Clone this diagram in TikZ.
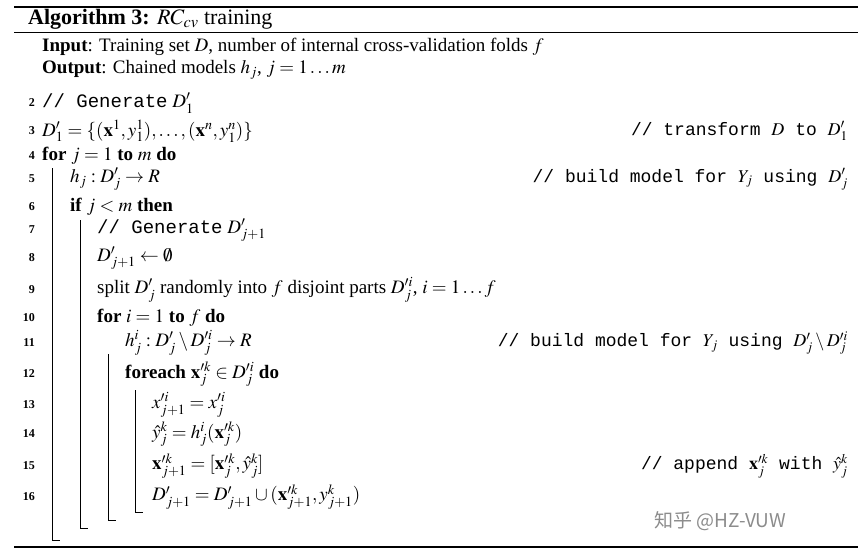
\documentclass[tikz,border=0pt]{standalone}
\usepackage{amsmath,amssymb}
\usepackage{mathptmx}
\usepackage{fontspec}
\setmainfont{Liberation Serif}
\setmonofont{Liberation Mono}
\newfontfamily\cjk{Noto Sans CJK SC}
\begin{document}
\begin{tikzpicture}[x=1pt,y=-1pt,
  txt/.style={anchor=west,inner sep=0pt,font=\fontsize{19}{22}\selectfont},
  num/.style={anchor=east,inner sep=0pt,font=\fontsize{12}{14}\selectfont\bfseries},
  cmt/.style={anchor=east,inner sep=0pt,font=\fontsize{18}{20}\selectfont\ttfamily},
  bar/.style={line width=0.8pt}]
\useasboundingbox (0,0) rectangle (858,556);
\fill[white] (0,0) rectangle (858,556);
\draw[line width=1.4pt] (14,7) -- (858,7);
\draw[line width=1pt] (14,33) -- (858,33);
\draw[line width=1.4pt] (14,547) -- (858,547);
\node[txt,font=\fontsize{22}{24}\selectfont] (title) at (28,19) {\textbf{Algorithm 3:} $RC_{cv}$ training};
\node[txt] (in) at (42,47) {\textbf{Input}: Training set $D$, number of internal cross-validation folds $f$};
\node[txt] (out) at (42,70) {\textbf{Output}: Chained models $h_j$, $j=1\ldots m$};
\foreach \n/\y in {2/103,3/131,4/156,5/179,6/207,7/230,8/258,9/290,10/318,11/343,12/374,13/405,14/434,15/466,16/497}
  \node[num] (n\n) at (35,\y) {\n};
\node[txt] (l2) at (42,103) {\texttt{// Generate} $D'_1$};
\node[txt] (l3) at (42,131) {$D'_1=\{(\mathbf{x}^1,y^1_1),\ldots,(\mathbf{x}^n,y^n_1)\}$};
\node[cmt] (c3) at (848,131) {// transform \textrm{$D$} to \textrm{$D'_1$}};
\node[txt] (l4) at (42,156) {\textbf{for} $j=1$ \textbf{to} $m$ \textbf{do}};
\node[txt] (l5) at (70,179) {$h_j : D'_j \rightarrow R$};
\node[cmt] (c5) at (848,179) {// build model for \textrm{$Y_j$} using \textrm{$D'_j$}};
\node[txt] (l6) at (70,207) {\textbf{if} $j<m$ \textbf{then}};
\node[txt] (l7) at (97,230) {\texttt{// Generate} $D'_{j+1}$};
\node[txt] (l8) at (97,258) {$D'_{j+1}\leftarrow\emptyset$};
\node[txt] (l9) at (97,290) {split $D'_j$ randomly into $f$ disjoint parts $D'^{i}_j$, $i=1\ldots f$};
\node[txt] (l10) at (97,318) {\textbf{for} $i=1$ \textbf{to} $f$ \textbf{do}};
\node[txt] (l11) at (125,343) {$h^i_j : D'_j \setminus D'^{i}_j \rightarrow R$};
\node[cmt] (c11) at (848,343) {// build model for \textrm{$Y_j$} using \textrm{$D'_j\setminus D'^{i}_j$}};
\node[txt] (l12) at (125,374) {\textbf{foreach} $\mathbf{x}'^{k}_j\in D'^{i}_j$ \textbf{do}};
\node[txt] (l13) at (152,405) {$x'^{i}_{j+1}=x'^{i}_j$};
\node[txt] (l14) at (152,434) {$\hat{y}^k_j=h^i_j(\mathbf{x}'^{k}_j)$};
\node[txt] (l15) at (152,466) {$\mathbf{x}'^{k}_{j+1}=[\mathbf{x}'^{k}_j,\hat{y}^k_j]$};
\node[cmt] (c15) at (848,466) {// append \textrm{$\mathbf{x}'^{k}_j$} with \textrm{$\hat{y}^k_j$}};
\node[txt] (l16) at (152,497) {$D'_{j+1}=D'_{j+1}\cup(\mathbf{x}'^{k}_{j+1},y^k_{j+1})$};
\draw[bar] (52,168) -- (52,540) -- (60,540);
\draw[bar] (80,220) -- (80,528) -- (88,528);
\draw[bar] (108,354) -- (108,520) -- (116,520);
\draw[bar] (135,390) -- (135,512) -- (143,512);
\node[anchor=west,inner sep=0pt,text=black!45,font=\cjk\fontsize{19}{22}\selectfont] (wm) at (654,521) {知乎 @HZ-VUW};
\end{tikzpicture}
\end{document}
